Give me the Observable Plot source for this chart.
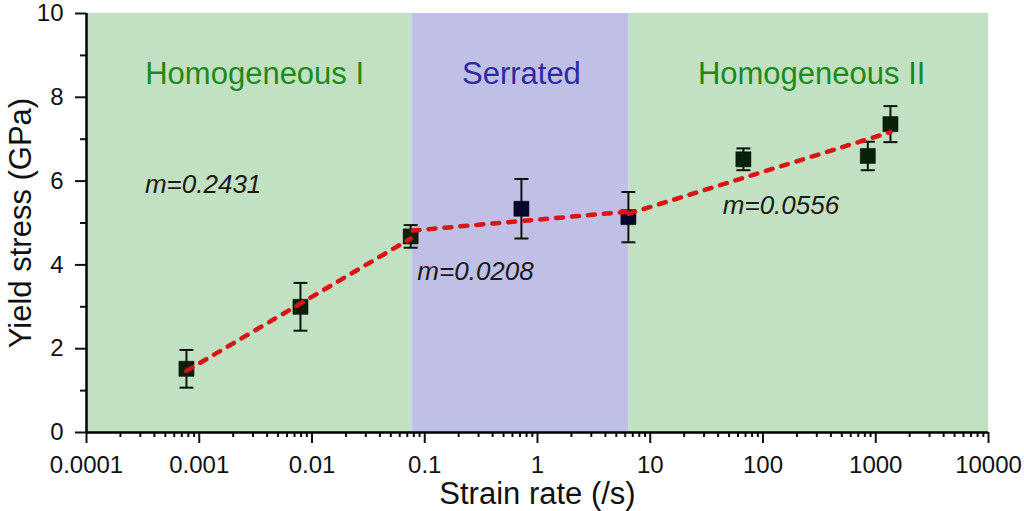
<!DOCTYPE html>
<html>
<head>
<meta charset="utf-8">
<script src="https://cdn.jsdelivr.net/npm/d3@7"></script>
<script src="https://cdn.jsdelivr.net/npm/@observablehq/plot@0.6"></script>
<style>
  html, body { margin: 0; padding: 0; background: #ffffff; }
</style>
</head>
<body>
<div id="chart"></div>
<script>
// Measured yield stress versus strain rate, with standard-deviation error bars
const strainRate  = [0.00077, 0.0079, 0.075, 0.72, 6.4, 67, 850, 1350];
const yieldStress = [1.52, 3.0, 4.68, 5.34, 5.14, 6.52, 6.6, 7.36];
const stressError = [0.45, 0.57, 0.27, 0.71, 0.6, 0.26, 0.34, 0.43];

// Deformation regimes
const regionNames     = ["Homogeneous I", "Serrated", "Homogeneous II"];
const regionBounds    = [0.0001, 0.078, 6.5, 10000];
const regionFill      = ["#c2e0c2", "#c0c0e6", "#c2e0c2"];
const regionTextColor = ["#1b8a1b", "#2b2ba3", "#1b8a1b"];
const regionMarker    = ["#0a200a", "#06062a", "#0a200a"];
const regionLabelX    = [0.0031, 0.72, 270];
const regionLabelY    = 8.55;

// Fitted strain-rate sensitivity segments
const fitStartX = [0.00077, 0.078, 6.4];
const fitStartY = [1.47, 4.82, 5.22];
const fitEndX   = [0.075, 6.4, 1350];
const fitEndY   = [4.63, 5.27, 7.17];
const slopeLabels = ["m=0.2431", "m=0.0208", "m=0.0556"];
const slopeLabelX = [0.00033, 0.086, 44];
const slopeLabelY = [5.91, 3.83, 5.42];

// Axis ticks
const xMajorTicks = [0.0001, 0.001, 0.01, 0.1, 1, 10, 100, 1000, 10000];
const xMinorTicks = [];
for (const decade of xMajorTicks.slice(0, -1)) {
  for (let k = 2; k <= 9; k++) xMinorTicks.push(+(decade * k).toPrecision(3));
}
const yMajorTicks = [0, 2, 4, 6, 8, 10];
const yMinorTicks = [1, 3, 5, 7, 9];

const xTitle = "Strain rate (/s)";
const yTitle = "Yield stress (GPa)";

// Tables built from the arrays above
const regionIndex = x => {
  for (let i = 0; i < regionNames.length; i++) {
    if (x >= regionBounds[i] && x < regionBounds[i + 1]) return i;
  }
  return regionNames.length - 1;
};
const points = strainRate.map((x, i) => ({
  x, y: yieldStress[i], e: stressError[i], fill: regionMarker[regionIndex(x)]
}));
const regions = regionNames.map((name, i) => ({
  name, x1: regionBounds[i], x2: regionBounds[i + 1],
  fill: regionFill[i], color: regionTextColor[i], lx: regionLabelX[i]
}));
const fits = fitStartX.map((x1, i) => ({
  x1, y1: fitStartY[i], x2: fitEndX[i], y2: fitEndY[i],
  label: slopeLabels[i], lx: slopeLabelX[i], ly: slopeLabelY[i]
}));

// Horizontal cap for the error bars (fixed pixel width)
const capSymbol = {
  draw(context) {
    context.moveTo(-7, 0);
    context.lineTo(7, 0);
  }
};

const font = "'Liberation Sans', Arial, Helvetica, sans-serif";

const chart = Plot.plot({
  width: 1024,
  height: 511,
  marginLeft: 86,
  marginRight: 36,
  marginTop: 13,
  marginBottom: 79,
  style: {fontFamily: font, fontSize: "24px", color: "#111", background: "#fff"},
  x: {type: "log", domain: [0.0001, 10000]},
  y: {domain: [0, 10]},
  marks: [
    // regime backgrounds
    Plot.rect(regions, {x1: "x1", x2: "x2", y1: 0, y2: 10, fill: "fill"}),
    Plot.text(regions, {
      x: "lx", y: regionLabelY, text: "name", fill: "color",
      fontSize: 31, textAnchor: "middle", lineAnchor: "middle"
    }),

    // error bars
    Plot.ruleX(points, {x: "x", y1: d => d.y - d.e, y2: d => d.y + d.e, stroke: "#0a140a", strokeWidth: 2}),
    Plot.dot(points, {x: "x", y: d => d.y + d.e, symbol: capSymbol, stroke: "#0a140a", strokeWidth: 2}),
    Plot.dot(points, {x: "x", y: d => d.y - d.e, symbol: capSymbol, stroke: "#0a140a", strokeWidth: 2}),

    // data points
    Plot.dot(points, {
      x: "x", y: "y", symbol: "square", r: 8.5,
      fill: "fill", stroke: "#000", strokeOpacity: 0.5, strokeWidth: 1
    }),

    // fitted lines
    Plot.link(fits, {
      x1: "x1", y1: "y1", x2: "x2", y2: "y2",
      stroke: "#d81414", strokeWidth: 4.5, strokeDasharray: "7,9", strokeLinecap: "round"
    }),
    Plot.text(fits, {
      x: "lx", y: "ly", text: "label", fill: "#1a1a1a",
      fontSize: 26, fontStyle: "italic", textAnchor: "start", lineAnchor: "middle"
    }),

    // axes
    Plot.axisX(xMajorTicks, {
      tickSize: 11, tickPadding: 12, strokeWidth: 2, fontSize: 24,
      tickFormat: d => String(d), label: null
    }),
    Plot.axisX(xMinorTicks, {tickSize: 5, strokeWidth: 2, tickFormat: () => "", label: null}),
    Plot.axisY(yMajorTicks, {
      tickSize: 11, tickPadding: 12, strokeWidth: 2, fontSize: 24,
      tickFormat: d => String(d), label: null
    }),
    Plot.axisY(yMinorTicks, {tickSize: 6, strokeWidth: 2, tickFormat: () => "", label: null}),
    Plot.ruleX([0.0001], {stroke: "#000", strokeWidth: 2.5}),
    Plot.ruleY([0], {stroke: "#000", strokeWidth: 2.5}),

    // axis titles
    Plot.text([xTitle], {
      frameAnchor: "bottom", text: d => d, dy: 71, lineAnchor: "bottom",
      textAnchor: "middle", fontSize: 31, fill: "#111"
    }),
    Plot.text([yTitle], {
      frameAnchor: "left", text: d => d, dx: -65, rotate: -90,
      textAnchor: "middle", lineAnchor: "middle", fontSize: 31, fill: "#111"
    })
  ]
});

document.getElementById("chart").appendChild(chart);
</script>
</body>
</html>
